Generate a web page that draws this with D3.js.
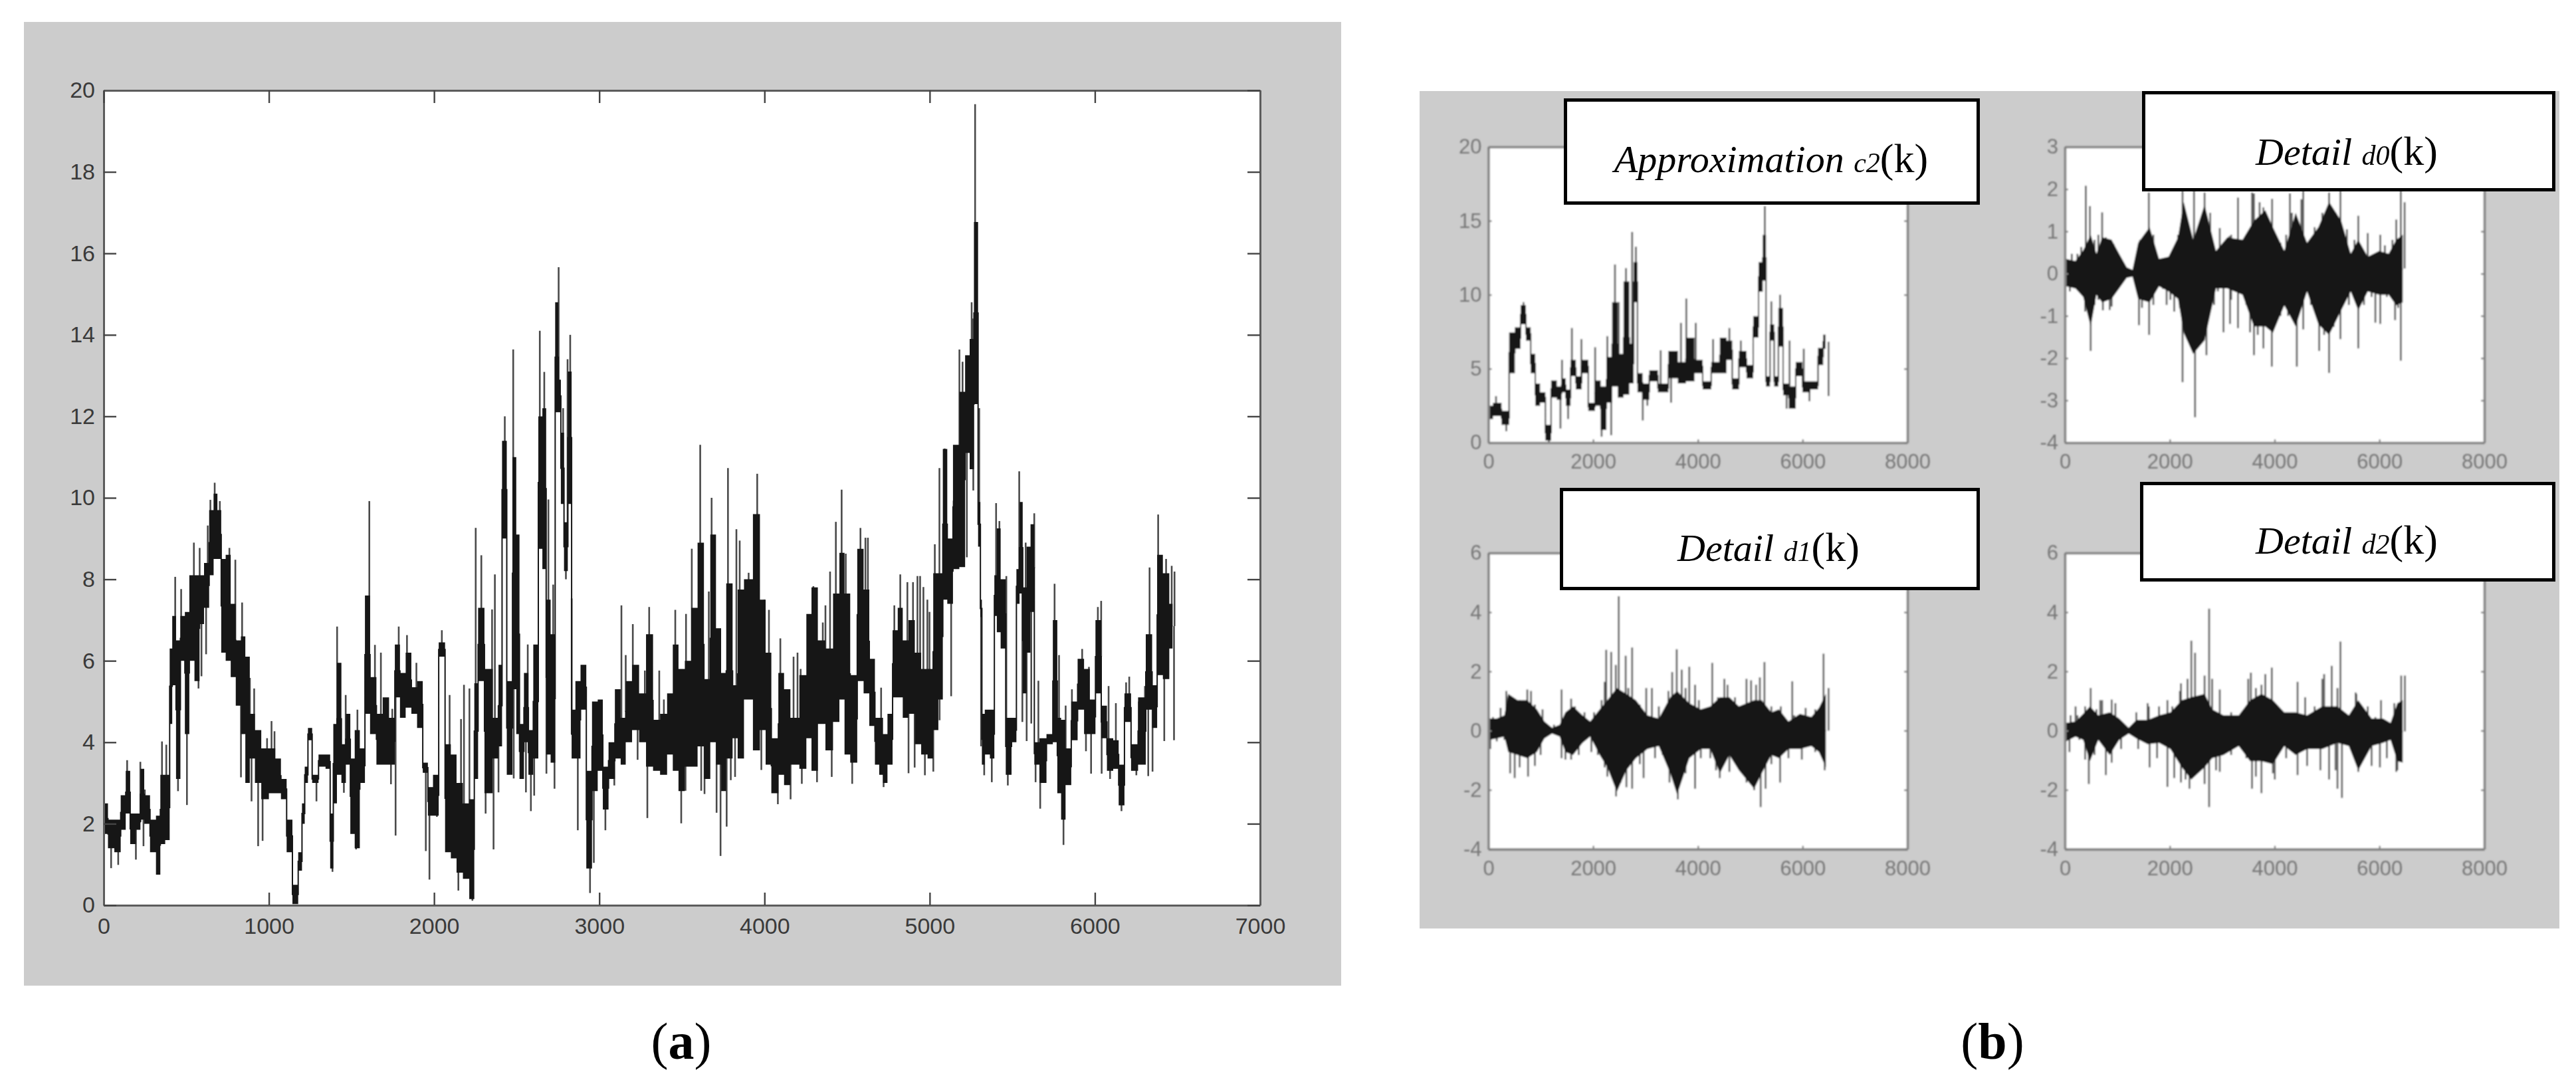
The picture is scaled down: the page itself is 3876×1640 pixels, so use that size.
<!DOCTYPE html>
<html>
<head>
    <meta charset="utf-8">
    <title>Wavelet decomposition</title>
    <style>
        html,body{margin:0;padding:0;background:#fff;}
        svg{display:block;}
    </style>
</head>
<body>
<script src="https://cdn.jsdelivr.net/npm/d3@7/dist/d3.min.js"></script>
<script>
    // (a) original signal: dense core of the trace (lo..hi) read along k, then the thin spikes
    var aK=[7,45,84,122,145,176,215,230,261,300,333,353,392,407,423,453,476,507,530,569,592,623,654,677,700,723,754,784,815,846,869,900,931,977,1023,1054,1092,1123,1162,1193,1208,1226,1247,1277,1324,1362,1380,1400,1424,1454,1478,1508,1531,1570,1593,1632,1670,1708,1747,1778,1809,1847,1878,1916,1947,1978,2009,2047,2086,2117,2155,2194,2232,2255,2278,2332,2378,2402,2421,2459,2490,2505,2529,2559,2583,2618,2644,2667,2690,2721,2745,2760,2775,2798,2821,2844,2867,2906,2937,2975,3006,3037,3075,3114,3145,3175,3222,3260,3306,3345,3391,3430,3460,3499,3537,3576,3614,3653,3691,3722,3753,3784,3830,3845,3907,3953,3992,4022,4061,4107,4130,4184,4238,4269,4300,4346,4392,4438,4469,4500,4538,4585,4615,4654,4683,4706,4729,4760,4791,4822,4852,4891,4929,4968,5006,5037,5068,5091,5122,5160,5199,5230,5254,5282,5304,5310,5322,5345,5384,5399,5414,5445,5476,5515,5535,5553,5573,5599,5622,5645,5684,5730,5761,5784,5807,5838,5876,5915,5954,5984,6023,6054,6092,6130,6158,6200,6238,6285,6331,6362,6392,6431,6470];
    var aHi=[2.5,2.1,2.1,2.7,3.3,2.25,2.25,3.35,2.7,2.1,2.2,3.2,3.2,6.3,7.1,6.5,7.1,7.2,8.1,8.1,8.1,8.4,9.7,10.1,9.7,8.5,8.6,7.4,6.5,6.6,6.1,4.7,4.3,3.85,3.85,3.6,3.1,2.1,0.5,1.3,2.5,3.4,4.35,3.2,3.7,3.7,2.25,4.45,5.95,3.95,4.7,3.6,4.3,3.85,7.6,5.6,4.7,5.1,4.6,6.4,5.7,6.2,5.35,5.5,3.5,2.9,3.2,6.45,3.95,3.7,3,2.5,2.6,5.45,7.3,5.8,4.6,5.9,11.4,5.5,11,9.1,4.45,5.7,4.3,6.4,12,12.2,7.5,6.65,14.8,12.9,11.6,9.4,13.1,4.8,5.5,5.9,3.3,5,5.05,3.4,4,5.3,4.6,5.5,5.9,5.2,6.65,4.55,4.7,5.2,6.4,5.8,6,7.3,8.9,5.55,9.1,6.8,5.7,7.9,5.4,7.75,8,9.6,7.5,6.2,4.1,5.7,5.3,4.6,5.65,7.15,7.8,6.5,6.3,7.65,8.65,7.65,5.65,8.75,7.75,6.05,4.6,4.6,4.2,4.7,6.75,7.3,6.5,7,6.2,5.8,5.8,8.15,8.15,11.2,9,11.3,12.6,13.5,13.9,16.77,9.9,7.5,4.7,4.8,4.8,8.1,9.25,8,4.6,4.6,8.25,9.9,7.8,8.8,9.35,4,4.1,4.2,7,4.6,4.55,3.85,5,6.05,5.8,5.05,7,4.9,4.1,4.05,3.45,5.2,3.95,5.1,6.65,5.4,8.6,8.15,7.4];
    var aLo=[1.75,1.4,1.3,1.85,2.25,1.5,1.85,2.1,2,1.3,0.75,1.5,1.6,4.45,5.4,3.1,6,4.2,6,5.5,6.9,7.3,8.1,8.5,8.5,6.2,6,5.6,4.9,4.2,3,3.6,3,2.6,2.75,2.75,2.6,1.3,0.03,0.85,2,3,4.05,3,3.4,3.35,0.9,2.5,3.2,3,3.45,1.75,1.4,3,4.7,4.2,3.45,3.45,3.45,5.1,4.6,4.85,4.7,4.35,3.25,2.2,2.2,6.1,1.3,1.15,0.8,0.65,0.15,3.1,5.5,2.75,3.6,3.9,9,3.2,5.3,4.2,3.1,4,3.2,3.6,8.75,8.25,3.7,3.5,12.1,12.1,9.85,8.2,9.85,3.6,3.6,4.8,0.9,2.8,3.3,2.35,3.1,3.6,3.45,4,4.3,4,3.4,3.3,3.2,3.7,3.3,2.8,3.4,3.4,3.9,3.1,4,3.45,2.8,3.6,4.1,3.6,5.05,3.8,4.3,3.45,2.75,3.2,2.95,3.45,3.35,4.1,3.3,4.45,3.8,4.5,5.05,3.7,3.5,5.5,5.2,4.4,3.45,3.2,3,3.45,5.1,5.1,4.6,4.7,3.95,3.7,3.6,4.3,5.05,7.5,7.4,8.25,8.3,11.1,10.7,12.3,8.8,7.07,3.45,3.7,3.6,7.1,6.7,6.3,3.2,4,7.4,7.65,5.2,6.2,7.2,3.45,3,3.95,4,2.75,2.1,2.95,4.05,4.8,4.2,4.2,5.2,4.1,3.3,3.35,2.45,4.5,3.3,3.45,4.8,4.35,5.65,5.55,6.3];
    var aUpK=[142,222,249,353,379,433,469,546,581,630,646,672,703,761,797,838,885,911,989,1016,1034,1413,1465,1536,1608,1642,1678,1747,1786,1836,1893,2047,2094,2163,2181,2214,2252,2286,2351,2368,2428,2479,2567,2640,2667,2692,2721,2754,2781,2808,2824,3134,3160,3203,3276,3302,3363,3391,3460,3525,3560,3611,3663,3680,3779,3830,3850,3904,3956,3999,4027,4096,4176,4200,4219,4296,4353,4369,4397,4432,4467,4492,4564,4581,4611,4626,4706,4786,4822,4865,4899,4926,4942,4962,4986,4999,5031,5059,5091,5145,5180,5199,5254,5260,5275,5300,5402,5422,5464,5542,5581,5633,5658,5756,5783,5823,5861,5923,5964,6018,6038,6083,6127,6189,6208,6266,6303,6331,6383,6431,6465,6482];
    var aUpV=[3.56,3.52,2.84,4.02,3.94,8.06,7.76,8.9,8.77,9.32,9.95,10.37,9.92,8.77,8.48,7.43,5.58,5.32,4.1,4.52,4.27,6.84,5.16,4.8,9.92,6.39,6.2,4.82,6.84,6.63,5.95,6.75,5.16,4.57,5.41,5.32,9.26,8.59,7.26,8.12,12,13.64,6.4,14.1,13.09,9.96,7.87,15.66,12.2,13.4,14,7.36,6.14,6.9,5.76,7.32,5.76,5.05,7.25,7.15,8.75,11.3,7.7,10,10.73,9.23,8.95,8.16,10.59,7.5,7.25,6.55,6.1,6.2,5.8,7.83,6.94,7.36,8.19,9.41,10.2,8.63,7.15,9.26,9.02,9.02,5.34,7.36,8.12,7.93,7.93,8.08,8.08,7.81,7.5,7.2,8.86,10.73,11.21,9.93,13.64,13.34,14.8,14.4,19.66,12.2,9.87,9.43,8.08,10.65,8.9,9.62,5.51,7.89,6.14,4.9,5.3,6.29,5.85,7.32,7.47,5.38,4.96,5.47,5.61,5,5.38,8.29,9.59,8.5,8.33,8.19];
    var aDnK=[45,88,195,241,450,504,574,592,620,831,895,935,962,1288,1385,1454,1528,1739,1767,1950,1972,2017,2147,2232,2312,2360,2390,2482,2556,2586,2606,2680,2729,2798,2833,2870,2944,2967,3037,3091,3232,3291,3496,3522,3617,3637,3710,3734,3771,3796,3822,3981,4081,4158,4226,4318,4407,4531,4721,4872,4909,4971,5022,5060,5130,5225,5264,5311,5330,5376,5473,5561,5587,5615,5641,5669,5810,5946,5977,6041,6092,6161,6251,6323,6349,6420,6479];
    var aDnV=[0.91,0.99,1.12,1.45,2.8,2.46,5.32,5.62,6.16,3.14,2.55,1.45,1.58,2.55,0.82,2.76,1.37,2.97,1.71,1.33,0.63,2.17,0.36,0.11,2.25,1.37,2.77,3.11,2.77,2.31,2.69,3.23,2.86,8,7.53,1.84,0.3,1.04,1.84,2.94,3.57,2.14,2.01,2.81,2.81,2.73,2.27,1.21,1.93,3.07,3.15,3.32,2.48,2.6,2.98,3.02,3.15,2.98,2.9,3.24,3.38,3.19,3.28,4.54,5.13,8.54,10.18,3.9,3.19,3.02,2.94,4.5,4.03,4.46,3.02,2.37,1.48,3.78,3.23,3.23,3.1,2.31,3.19,3.17,3.28,4.03,4.05];

    // (b) approximation c2
    var cK=[15,160,342,451,560,670,764,852,939,1034,1143,1252,1361,1434,1522,1616,1725,1835,1980,2089,2199,2308,2417,2526,2635,2745,2803,2890,2999,3145,3327,3545,3691,3851,4018,4164,4346,4492,4601,4710,4856,5001,5111,5205,5271,5329,5424,5489,5584,5671,5802,5933,6057,6239,6348,6436];
    var cHi=[2.5,2.7,2.15,7.45,7.8,9.3,7.8,6,4,3.4,1.2,4.2,3.8,4.35,3.6,5.6,4.5,5.6,2.7,4.2,3.8,5.8,9.5,6,10.9,6.7,12.2,4.7,4,4.9,4,6.2,5.45,7.1,5.6,4.15,5.45,7.1,6.9,4.35,6.2,5.25,8.55,12.2,14.05,4.5,8,4.5,9.1,4,3.8,5.45,4.15,4.15,6.4,7.3];
    var cLo=[1.6,1.8,1.2,4.7,6.35,8,6.9,4.7,2.5,2.7,0.15,3.05,2.9,3.4,2.5,4.5,3.6,4.7,2.15,2.5,0.85,2.7,3.8,3.05,3.25,4,9.5,3.4,2.9,4.15,3.4,4.35,4,4.15,4.7,3.6,4.7,4.7,5.6,3.6,5.1,4.35,7.1,10.2,10.95,3.8,6.9,3.8,6.5,3.2,2.3,4.5,3.4,3.6,5.25,6.35];
    var cUpK=[146,670,1405,1594,1776,2038,2271,2417,2490,2628,2745,2817,3290,3676,3778,3960,4291,4601,4819,5278,5402,5569,5751,6021];
    var cUpV=[3.15,9.5,5.6,7.75,7,6.45,7.2,12.05,9.5,11.8,14.25,13.25,6.25,8.1,9.75,8.1,7,7.75,6.9,16,9.55,10,6.9,6.35];
    var cDnK=[342,1157,1376,1522,2162,2344,2948,3036,3487,5693,5817,6130,6494];
    var cDnV=[0.77,0.04,0.95,1.6,0.4,0.5,1.5,2.5,2.7,2.3,2.3,2.8,3.15];

    // (b) detail d0
    var d0K=[20,200,348,492,601,710,891,1035,1180,1289,1397,1615,1796,1977,2158,2266,2447,2664,2882,3099,3388,3605,3823,3968,4185,4402,4619,4836,5039,5271,5452,5596,5778,5995,6176,6321,6444];
    var d0Hi=[0.35,0.3,0.55,0.92,0.47,0.86,0.8,0.47,0.15,0.09,0.73,1.1,0.35,0.4,0.86,1.7,0.8,1.63,0.54,0.86,0.8,1.25,1.5,1.1,0.54,1.44,0.73,1.1,1.7,1.25,0.47,0.8,0.4,0.54,0.47,0.8,0.92];
    var d0Lo=[-0.3,-0.35,-0.55,-1.25,-0.5,-0.68,-0.6,-0.35,-0.1,-0.07,-0.6,-0.68,-0.3,-0.42,-0.6,-1.4,-1.9,-1.58,-0.35,-0.35,-0.5,-1.25,-1.25,-1.4,-0.75,-1.25,-0.42,-1.2,-1.45,-0.87,-0.42,-0.87,-0.42,-0.5,-0.5,-0.75,-0.68];
    var d0UpK=[398,478,710,1600,2244,2462,2664,2954,3171,3301,3569,3606,3953,4293,4547,5039,5256,5596,5778,6016,6321,6407,6480,130,239,311,565,637,782,927,1434,1520,1687,2158,2339,2773,3135,3461,3714,3787,3859,4112,4221,4330,4511,4764,4909,5162,5379,5524,6103,6248];
    var d0UpV=[2.08,1.6,1.45,1.92,2.02,2.08,1.92,1.08,0.92,1.8,1.92,1.9,1.77,1.9,2.08,1.92,2,1.37,0.96,0.92,1.28,2.08,1.69,0.47,0.47,0.63,0.8,0.92,0.86,0.7,0.8,0.8,0.92,0.92,1.05,1.44,0.89,0.92,1.69,1.57,1.31,0.73,0.92,1.44,1.76,1.1,1.44,1.44,1.05,0.8,0.67,0.8];
    var d0DnK=[384,492,724,854,1412,1607,1940,2085,2244,2483,2700,3026,3149,3301,3606,3787,3946,4424,4851,5039,5256,5596,5922,6016,6299,6407,94,275,565,637,891,1470,1687,1868,2013,2194,2339,2592,2845,2918,3171,3461,3533,3678,3895,4112,4257,4547,4692,4945,5126,5416,5705,5850,6140,6357];
    var d0DnV=[-0.9,-1.83,-0.87,-0.86,-1.22,-1.45,-0.74,-0.9,-2.57,-3.4,-1.93,-1.39,-1.19,-1.29,-1.93,-1.77,-2.2,-2.2,-1.83,-2.35,-1.55,-1.77,-1.16,-1.19,-1.1,-2.06,-0.42,-0.42,-0.74,-0.62,-0.78,-0.81,-0.74,-0.36,-0.62,-0.81,-0.87,-1.32,-0.74,-0.42,-0.62,-0.74,-1.39,-1.45,-1.26,-1,-1,-1.32,-0.74,-1.45,-1.26,-0.74,-0.74,-0.55,-0.55,-0.81];

    // (b) detail d1
    var d1K=[15,160,306,379,560,743,925,1070,1216,1361,1471,1616,1798,1944,2126,2271,2453,2635,2817,3036,3254,3473,3604,3836,4055,4237,4419,4601,4783,5074,5220,5402,5547,5729,5948,6166,6312,6443];
    var d1Hi=[0.41,0.41,0.52,1.24,1.03,1.03,0.72,0.31,0.1,0.2,0.62,0.82,0.52,0.31,0.72,1.03,1.44,1.24,1.03,0.52,0.41,1.13,1.34,0.93,0.72,0.82,1.13,1.13,0.82,1.03,1.03,0.62,0.72,0.31,0.57,0.46,0.77,1.24];
    var d1Lo=[-0.31,-0.26,-0.2,-0.72,-0.82,-0.93,-0.72,-0.26,-0.1,-0.2,-0.72,-0.82,-0.41,-0.2,-0.82,-1.24,-2.06,-1.34,-0.93,-0.62,-0.52,-1.44,-2.16,-0.93,-0.62,-0.62,-1.44,-0.82,-1.34,-1.96,-1.44,-0.82,-0.93,-0.62,-0.62,-0.52,-0.72,-1.24];
    var d1UpK=[342,743,815,1398,1580,2220,2250,2344,2432,2490,2621,2745,3014,3123,3509,3596,3691,3836,3946,4273,4506,4928,5016,5183,5271,5802,6057,6399,6494,87,233,451,597,888,1034,1252,1653,1835,2017,2162,2672,2890,3254,3436,3764,4018,4383,4565,4710,5110,5402,5584,5839,6239];
    var d1UpV=[1.34,1.39,1.34,1.39,1.08,1.65,2.73,2.66,2.22,4.54,2.53,2.81,1.44,1.44,1.98,2.75,2.06,2.16,1.55,2.29,1.75,1.75,1.7,1.8,2.32,1.67,0.77,2.6,1.44,0.46,0.77,1.13,1.03,0.88,0.72,0.2,0.82,0.62,0.62,1.03,1.44,0.88,0.82,1.34,1.44,1.03,1.13,1.55,1.13,1.55,0.82,0.82,0.52,0.72];
    var d1DnK=[36,415,502,757,888,1398,1580,1966,2220,2271,2439,2635,2745,2963,3458,3618,3946,4237,4419,4601,4928,5074,5198,5293,5569,6421,160,306,597,997,1471,1725,2089,2526,2890,3181,3327,3764,4055,4346,4819,5402,5729,5984,6239];
    var d1DnV=[-0.62,-1.44,-1.6,-1.55,-1.19,-0.93,-0.98,-0.72,-1.24,-1.55,-2.22,-1.91,-1.96,-1.6,-1.75,-2.32,-1.96,-0.93,-1.6,-1.39,-1.75,-2.01,-2.58,-1.96,-1.75,-1.34,-0.36,-0.31,-1.24,-0.82,-0.98,-0.82,-0.82,-1.75,-1.13,-0.93,-0.82,-1.44,-0.93,-1.34,-1.34,-1.13,-0.93,-0.98,-0.72];

    // (b) detail d2
    var d2K=[20,203,348,478,637,854,1035,1216,1361,1578,1796,2013,2230,2411,2664,2809,3026,3316,3533,3750,3968,4185,4402,4619,4909,5199,5416,5596,5850,6067,6212,6342,6444];
    var d2Hi=[0.26,0.31,0.57,0.82,0.52,0.62,0.41,0.1,0.36,0.36,0.52,0.62,1.03,1.13,1.24,0.72,0.52,0.52,1.03,1.24,1.03,0.62,0.62,0.52,0.82,0.82,0.52,1.03,0.41,0.41,0.26,0.93,1.03];
    var d2Lo=[-0.36,-0.2,-0.31,-1.03,-0.31,-0.82,-0.31,-0.1,-0.26,-0.46,-0.41,-0.62,-1.24,-1.65,-1.24,-0.93,-0.82,-0.52,-1.03,-1.03,-1.13,-0.52,-0.82,-0.62,-0.62,-0.41,-0.52,-1.34,-0.52,-0.41,-0.31,-1.03,-1.08];
    var d2UpK=[109,203,492,673,891,1600,1955,2215,2411,2483,2664,2751,2954,3548,3823,3946,4438,4945,5090,5256,5546,5778,6031,6415,6487,239,384,601,710,963,1361,1578,1796,2049,2194,2339,2556,2809,3171,3497,3642,3750,4112,4583,4764,4909,5199,5560,5922,6284];
    var d2UpV=[0.52,0.82,1.44,1.03,1.05,0.82,1.03,1.6,3.04,2.63,1.86,4.12,1.39,1.96,1.91,2.13,1.65,1.91,2.19,3.01,1.29,0.82,1.03,1.86,1.86,0.52,0.82,0.72,1.03,0.93,0.62,0.93,0.82,0.82,1.34,1.75,1.03,1.75,0.62,1.75,1.44,1.55,0.72,1.13,0.82,1.75,1.44,1.24,0.46,0.93];
    var d2DnK=[87,456,782,1615,1955,2085,2215,2375,2664,2751,2954,3569,3750,4004,4438,5039,5199,5285,5596,6009,6321,275,384,565,891,1072,1397,1759,2302,2520,2882,3171,3461,3642,3968,4221,4619,4873,5162,5633,5850,6140,6342];
    var d2DnV=[-0.72,-1.8,-1.5,-1.24,-1.9,-1.6,-1.75,-1.96,-1.8,-2.58,-1.39,-1.96,-2.11,-1.65,-1.5,-1.65,-1.96,-2.27,-1.39,-1.24,-1.39,-0.31,-0.98,-0.82,-1.08,-0.62,-0.62,-0.93,-1.65,-1.03,-1.34,-0.82,-0.93,-1.55,-1.44,-0.93,-1.19,-1.34,-1.34,-1.13,-1.19,-0.93,-1.34];

    // tick labels
    var aXTicks=[0,1000,2000,3000,4000,5000,6000,7000];
    var aYTicks=[0,2,4,6,8,10,12,14,16,18,20];
    var bXTicks=[0,2000,4000,6000,8000];
    var cYTicks=[0,5,10,15,20];
    var d0YTicks=[-4,-3,-2,-1,0,1,2,3];
    var d1YTicks=[-4,-2,0,2,4,6];
    var d2YTicks=[-4,-2,0,2,4,6];

    var svg=d3.select('body')
            .append('svg')
            .attr('width',3876)
            .attr('height',1640);

    // the small plots in (b) are soft in the source image
    svg.append('filter').attr('id','soft')
            .attr('x','-5%').attr('y','-5%').attr('width','110%').attr('height','110%')
            .append('feGaussianBlur').attr('stdDeviation',1.1);

    var grey='#cccccc';
    svg.append('rect').attr('x',36).attr('y',33).attr('width',1982).attr('height',1450).attr('fill',grey);
    svg.append('rect').attr('x',2136).attr('y',137).attr('width',1715).attr('height',1260).attr('fill',grey);

    function drawPlot(p){
        var x=d3.scaleLinear().domain(p.xDomain).range([p.left,p.right]);
        var y=d3.scaleLinear().domain(p.yDomain).range([p.bottom,p.top]);
        var g=svg.append('g');
        if(p.soft) g.attr('filter','url(#soft)');

        g.append('rect').attr('x',p.left).attr('y',p.top)
                .attr('width',p.right-p.left).attr('height',p.bottom-p.top).attr('fill','#fff');

        var rows=d3.range(p.k.length);
        //thin spikes first, the dense core goes over them
        var spikes=[];
        p.upK.forEach(function(k,i){spikes.push({k:k,v:p.upV[i]});});
        p.dnK.forEach(function(k,i){spikes.push({k:k,v:p.dnV[i]});});
        g.selectAll('.spike').data(spikes).enter().append('line')
                .attr('class','spike')
                .attr('x1',function(d){return x(d.k);})
                .attr('x2',function(d){return x(d.k);})
                .attr('y1',function(d){return y(d.v);})
                .attr('y2',function(d){
                    var i=d3.bisectCenter(p.k,d.k);
                    return y((p.hi[i]+p.lo[i])/2);
                })
                .attr('stroke',p.spikeColor)
                .attr('stroke-width',p.spikeWidth);

        var link=d3.line()
                .x(function(i){return x(p.k[i]);})
                .y(function(i){return y((p.hi[i]+p.lo[i])/2);})
                .curve(p.curve);
        g.append('path').datum(rows).attr('d',link)
                .attr('fill','none').attr('stroke','#161616').attr('stroke-width',2);

        var core=d3.area()
                .x(function(i){return x(p.k[i]);})
                .y0(function(i){return y(p.lo[i]);})
                .y1(function(i){return y(p.hi[i]);})
                .curve(p.curve);
        g.append('path').datum(rows).attr('d',core).attr('fill','#161616');

        var axes=[
            {ax:d3.axisBottom(x).tickValues(p.xTicks).tickSizeInner(-p.tick).tickPadding(p.xPad).tickFormat(String),tr:[0,p.bottom]},
            {ax:d3.axisLeft(y).tickValues(p.yTicks).tickSizeInner(-p.tick).tickPadding(p.yPad).tickFormat(String),tr:[p.left,0]},
            {ax:d3.axisTop(x).tickValues(p.xTicks).tickSizeInner(-p.tick).tickFormat(''),tr:[0,p.top]},
            {ax:d3.axisRight(y).tickValues(p.yTicks).tickSizeInner(-p.tick).tickFormat(''),tr:[p.right,0]}
        ];
        axes.forEach(function(a){
            var gAxis=g.append('g')
                    .attr('transform','translate('+a.tr[0]+','+a.tr[1]+')')
                    .call(a.ax.tickSizeOuter(0));
            gAxis.select('.domain').attr('stroke',p.frameColor).attr('stroke-width',p.frameWidth);
            gAxis.selectAll('.tick line').attr('stroke',p.tickColor).attr('stroke-width',p.tickWidth);
            gAxis.selectAll('.tick text')
                    .attr('fill',p.textColor)
                    .style('font-family','"Liberation Sans",Arial,sans-serif')
                    .style('font-size',p.fontSize+'px');
        });
    }

    var bigStyle={soft:false,curve:d3.curveStep,spikeColor:'#4a4a4a',spikeWidth:2.6,frameColor:'#5c5c5c',frameWidth:3,
        tickColor:'#444',tickWidth:2.4,tick:19,textColor:'#3a3a3a',fontSize:34,xPad:19,yPad:13};
    var smallStyle={soft:true,curve:d3.curveLinear,spikeColor:'#444',spikeWidth:2.6,frameColor:'#858585',frameWidth:3.6,
        tickColor:'#808080',tickWidth:2.4,tick:5,textColor:'#777',fontSize:31,xPad:17,yPad:10};

    drawPlot(Object.assign({},bigStyle,{left:156,right:1896,top:136,bottom:1362,
        xDomain:[0,7000],yDomain:[0,20],xTicks:aXTicks,yTicks:aYTicks,
        k:aK,hi:aHi,lo:aLo,upK:aUpK,upV:aUpV,dnK:aDnK,dnV:aDnV}));
    drawPlot(Object.assign({},smallStyle,{left:2239.5,right:2870,top:221,bottom:666,curve:d3.curveStep,
        xDomain:[0,8000],yDomain:[0,20],xTicks:bXTicks,yTicks:cYTicks,
        k:cK,hi:cHi,lo:cLo,upK:cUpK,upV:cUpV,dnK:cDnK,dnV:cDnV}));
    drawPlot(Object.assign({},smallStyle,{left:3107,right:3738,top:221,bottom:666,
        xDomain:[0,8000],yDomain:[-4,3],xTicks:bXTicks,yTicks:d0YTicks,
        k:d0K,hi:d0Hi,lo:d0Lo,upK:d0UpK,upV:d0UpV,dnK:d0DnK,dnV:d0DnV}));
    drawPlot(Object.assign({},smallStyle,{left:2239.5,right:2870,top:832,bottom:1277.6,
        xDomain:[0,8000],yDomain:[-4,6],xTicks:bXTicks,yTicks:d1YTicks,
        k:d1K,hi:d1Hi,lo:d1Lo,upK:d1UpK,upV:d1UpV,dnK:d1DnK,dnV:d1DnV}));
    drawPlot(Object.assign({},smallStyle,{left:3107,right:3738,top:832,bottom:1277.6,
        xDomain:[0,8000],yDomain:[-4,6],xTicks:bXTicks,yTicks:d2YTicks,
        k:d2K,hi:d2Hi,lo:d2Lo,upK:d2UpK,upV:d2UpV,dnK:d2DnK,dnV:d2DnV}));

    //title boxes sit on top of the plots
    var boxes=[
        {x0:2353,x1:2979,y0:148,y1:308,cx:2665,base:259,name:'Approximation ',sub:'c2'},
        {x0:3223,x1:3845,y0:137,y1:288,cx:3531,base:248,name:'Detail ',sub:'d0'},
        {x0:2347,x1:2979,y0:734,y1:888,cx:2661,base:844,name:'Detail ',sub:'d1'},
        {x0:3220,x1:3845,y0:725,y1:875,cx:3531,base:833,name:'Detail ',sub:'d2'}
    ];
    boxes.forEach(function(b){
        svg.append('rect').attr('x',b.x0+2.5).attr('y',b.y0+2.5)
                .attr('width',b.x1-b.x0-5).attr('height',b.y1-b.y0-5)
                .attr('fill','#fff').attr('stroke','#000').attr('stroke-width',5);
        var t=svg.append('text').attr('x',b.cx).attr('y',b.base)
                .attr('text-anchor','middle')
                .style('font-family','"Liberation Serif",serif')
                .style('font-size','58px');
        t.append('tspan').style('font-style','italic').text(b.name);
        t.append('tspan').style('font-style','italic').style('font-size','42px').text(b.sub);
        t.append('tspan').style('font-size','62px').text('(k)');
    });

    //captions
    [{x:1025,y:1593,s:'a'},{x:2998,y:1593,s:'b'}].forEach(function(c){
        var t=svg.append('text').attr('x',c.x).attr('y',c.y)
                .attr('text-anchor','middle')
                .style('font-family','"Liberation Serif",serif')
                .style('font-size','78px');
        t.append('tspan').text('(');
        t.append('tspan').style('font-weight','bold').text(c.s);
        t.append('tspan').text(')');
    });
</script>
</body>
</html>
